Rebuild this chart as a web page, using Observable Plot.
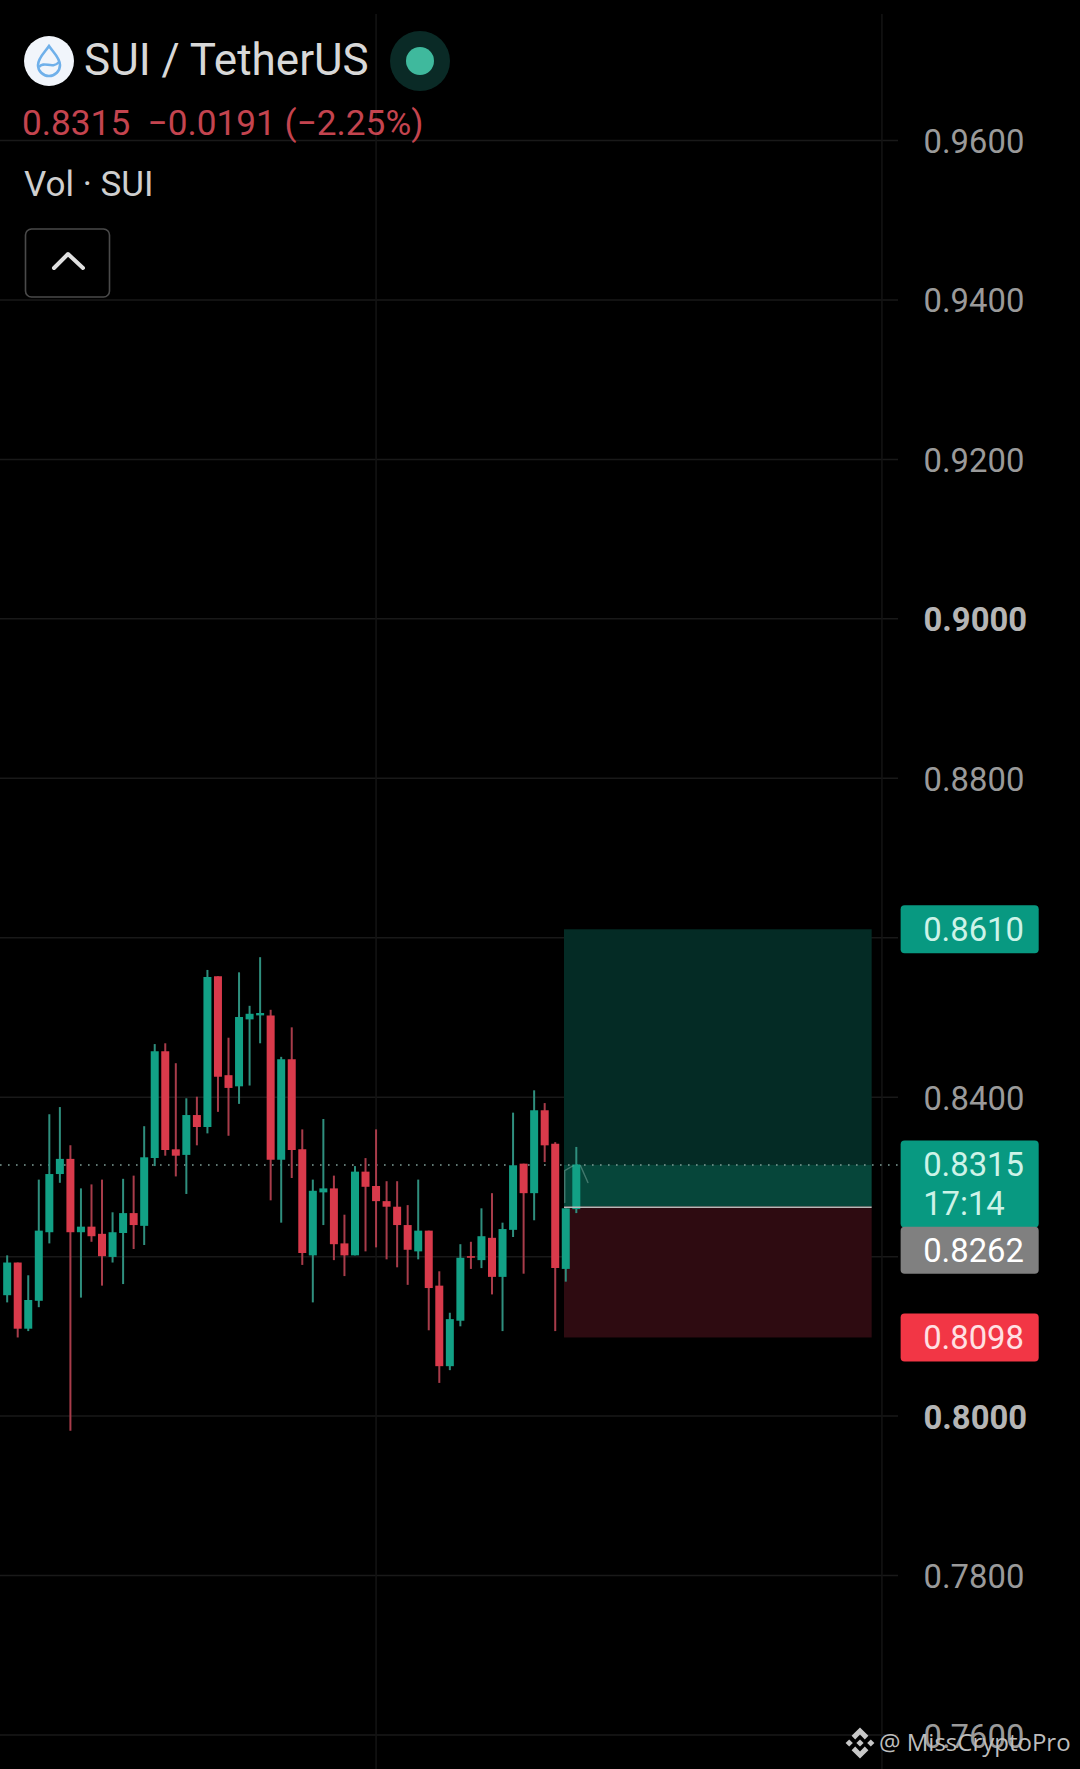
<!DOCTYPE html>
<html>
<head>
<meta charset="utf-8">
<script src="https://cdn.jsdelivr.net/npm/d3@7"></script>
<script src="https://cdn.jsdelivr.net/npm/@observablehq/plot@0.6"></script>
<style>
html,body{margin:0;padding:0;background:#000;width:1080px;height:1769px;overflow:hidden}
#wrap{position:relative;width:1080px;height:1769px;font-family:Roboto,sans-serif}
#chart svg{display:block;background:#000}
.ov{position:absolute;white-space:pre;line-height:1;font-weight:400}
</style>
</head>
<body>
<div id="wrap">
<div id="chart"></div>
<svg class="ov" style="left:0;top:0" width="480" height="310" viewBox="0 0 480 310">
  <circle cx="49" cy="61" r="25" fill="#f1f5fb"/>
  <path d="M49 46 C53 52 60 58 60 65 A11 11 0 0 1 38 65 C38 58 45 52 49 46 Z" fill="none" stroke="#6fb0ea" stroke-width="2.6"/>
  <path d="M39 67 C44 60 52 70 59 62" fill="none" stroke="#6fb0ea" stroke-width="2.4"/>
  <circle cx="420" cy="61" r="30" fill="#0a2a26"/>
  <circle cx="420" cy="61" r="14" fill="#3fb99d"/>
  <rect x="25.5" y="229" width="84" height="68" rx="6" fill="#000" stroke="#4a4a4a" stroke-width="1.6"/>
  <path d="M54 272 L68 258 L83 272" transform="translate(0,-4)" fill="none" stroke="#e0e0e0" stroke-width="4" stroke-linecap="round" stroke-linejoin="round"/>
</svg>
<div class="ov" style="left:84px;top:38px;font-size:44px;color:#d8d8d8">SUI / TetherUS</div>
<div class="ov" style="left:22px;top:106px;font-size:35.2px;color:#c4444f">0.8315  −0.0191 (−2.25%)</div>
<div class="ov" style="left:24px;top:167px;font-size:35px;color:#cfcfcf">Vol · SUI</div>
<svg class="ov" style="left:0;top:0" width="1080" height="1769" viewBox="0 0 1080 1769">
  <g fill="#c8c8c8" transform="translate(860 1743) scale(1.2)">
    <path d="M0 -13 L7 -6 L4 -3 L0 -7 L-4 -3 L-7 -6 Z"/>
    <path d="M0 13 L7 6 L4 3 L0 7 L-4 3 L-7 6 Z"/>
    <path d="M-9 -3 L-12 0 L-9 3 L-6 0 Z"/>
    <path d="M9 -3 L12 0 L9 3 L6 0 Z"/>
    <path d="M0 -3 L3 0 L0 3 L-3 0 Z"/>
  </g>
</svg>
<div class="ov" style="left:879px;top:1730px;font-size:24px;color:#bdbdbd;font-family:'Open Sans',sans-serif;font-weight:400">@ MissCryptoPro</div>
</div>
<script>
const opens = [.8151,.8192,.8109,.8144,.8230,.8303,.8322,.8230,.8237,.8228,.8199,.8229,.8254,.8238,.8323,.8457,.8334,.8327,.8377,.8362,.8551,.8427,.8413,.8497,.8502,.8502,.8321,.8447,.8334,.8201,.8280,.8285,.8216,.8201,.8306,.8288,.8269,.8262,.8239,.8206,.8232,.8163,.8062,.8119,.8200,.8195,.8223,.8174,.8233,.8316,.8279,.8383,.8341,.8184,.8259];
const closes = [.8192,.8109,.8145,.8232,.8303,.8322,.8230,.8237,.8225,.8200,.8230,.8254,.8239,.8324,.8457,.8333,.8326,.8377,.8362,.8550,.8425,.8411,.8500,.8504,.8505,.8321,.8447,.8333,.8204,.8282,.8285,.8215,.8201,.8306,.8287,.8269,.8262,.8239,.8208,.8232,.8160,.8062,.8121,.8198,.8198,.8225,.8174,.8234,.8314,.8279,.8383,.8339,.8185,.8260,.8315];
const highs = [.8201,.8192,.8176,.8296,.8378,.8387,.8339,.8285,.8290,.8296,.8255,.8297,.8301,.8363,.8466,.8467,.8442,.8398,.8400,.8559,.8551,.8474,.8556,.8514,.8575,.8509,.8450,.8487,.8359,.8296,.8372,.8301,.8252,.8313,.8323,.8359,.8294,.8294,.8264,.8296,.8232,.8181,.8129,.8215,.8218,.8260,.8279,.8242,.8380,.8316,.8408,.8392,.8343,.8260,.8337];
const lows = [.8142,.8098,.8106,.8136,.8216,.8292,.7981,.8148,.8218,.8163,.8192,.8165,.8209,.8214,.8313,.8326,.8300,.8278,.8339,.8354,.8381,.8351,.8391,.8414,.8467,.8270,.8242,.8298,.8189,.8142,.8239,.8195,.8175,.8201,.8206,.8211,.8196,.8186,.8164,.8196,.8107,.8041,.8057,.8112,.8184,.8185,.8152,.8106,.8224,.8178,.8245,.8318,.8106,.8168,.8254];
const gridPrices = [.96,.94,.92,.90,.88,.86,.84,.82,.80,.78,.76];
const regularTicks = [.96,.94,.92,.88,.84,.78,.76];
const boldTicks = [.90,.80];
const dayLines = [35,83];
const lastPrice = 0.8315, entry = 0.8262, target = 0.8610, stop = 0.8098;
const boxStart = 52.88, boxEnd = 82.07;
const countdown = "17:14";
const arrowStrokes = [
  [[52.9,.8268],[52.9,.8308],[53.7,.8314]],
  [[54.4,.8314],[55.1,.8293]]
];

const candles = opens.map((o,i)=>({i,o,c:closes[i],h:highs[i],l:lows[i],up:closes[i]>=o}));
const GREEN="#12a085", RED="#d93a4b", GW="#2f8f7e", RW="#a83c4a";
const fmt = d3.format(".4f");
const tagL = 84.82, tagR = 97.92;
const labelDx = 22, labelSize = 32.8;

const plot = Plot.plot({
  width:1080, height:1769,
  marginLeft:0, marginRight:182, marginTop:0, marginBottom:0,
  style:{background:"#000", fontFamily:"Roboto, sans-serif"},
  x:{domain:[-0.633,84.57], axis:null},
  y:{type:"linear", domain:[.96,.76], range:[140,1734.5], axis:null},
  marks:[
    Plot.gridY(gridPrices,{stroke:"#191919", strokeOpacity:1, strokeWidth:1.5}),
    Plot.ruleX(dayLines,{y1:.9758,y2:.7,stroke:"#141414",strokeWidth:1.5}),
    Plot.rect([{}],{x1:()=>boxStart,x2:()=>boxEnd,y1:()=>target,y2:()=>lastPrice,fill:"#042b25"}),
    Plot.rect([{}],{x1:()=>boxStart,x2:()=>boxEnd,y1:()=>lastPrice,y2:()=>entry,fill:"#06463a"}),
    Plot.rect([{}],{x1:()=>boxStart,x2:()=>boxEnd,y1:()=>entry,y2:()=>stop,fill:"#2e0b11"}),
    Plot.ruleY([lastPrice],{stroke:"#7f9f98",strokeWidth:1.6,strokeDasharray:"1.6 6.4"}),
    Plot.ruleX(candles,{x:"i",y1:"l",y2:"h",stroke:d=>d.up?GW:RW,strokeWidth:2}),
    Plot.ruleX(candles,{x:"i",y1:"o",y2:"c",stroke:d=>d.up?GREEN:RED,strokeWidth:8}),
    ...arrowStrokes.map(s=>Plot.line(s,{x:d=>d[0],y:d=>d[1],stroke:"#8fb8ae",strokeWidth:1.4,strokeOpacity:.45})),
    Plot.ruleY([entry],{x1:()=>boxStart,x2:()=>boxEnd,stroke:"#b8b8b8",strokeWidth:1.6}),
    Plot.axisY(regularTicks,{anchor:"right",tickSize:0,tickPadding:25,tickFormat:fmt,fill:"#9a9a9a",fontSize:labelSize,fontWeight:400,dy:2,label:null}),
    Plot.axisY(boldTicks,{anchor:"right",tickSize:0,tickPadding:25,tickFormat:fmt,fill:"#b5b5b5",fontSize:labelSize,fontWeight:700,dy:2,label:null}),
    // price tags
    Plot.rect([target],{x1:()=>tagL,x2:()=>tagR,y1:d=>d,y2:d=>d,insetTop:-24,insetBottom:-24,fill:"#089981",rx:4}),
    Plot.rect([lastPrice],{x1:()=>tagL,x2:()=>tagR,y1:d=>d,y2:d=>d,insetTop:-24,insetBottom:-63,fill:"#089981",rx:4}),
    Plot.rect([entry],{x1:()=>tagL,x2:()=>tagR,y1:d=>d,y2:d=>d,insetTop:20,insetBottom:-67,fill:"#808080",rx:4}),
    Plot.rect([stop],{x1:()=>tagL,x2:()=>tagR,y1:d=>d,y2:d=>d,insetTop:-24,insetBottom:-24,fill:"#f23645",rx:4}),
    Plot.text([target],{x:()=>tagL,y:d=>d,dx:labelDx,dy:1,text:fmt,textAnchor:"start",fill:"#cdf3e8",fontSize:labelSize,fontWeight:400}),
    Plot.text([lastPrice],{x:()=>tagL,y:d=>d,dx:labelDx,dy:1,text:fmt,textAnchor:"start",fill:"#cdf3e8",fontSize:labelSize,fontWeight:400}),
    Plot.text([lastPrice],{x:()=>tagL,y:d=>d,dx:labelDx,dy:40,text:()=>countdown,textAnchor:"start",fill:"#cdf3e8",fontSize:labelSize,fontWeight:400}),
    Plot.text([entry],{x:()=>tagL,y:d=>d,dx:labelDx,dy:44,text:fmt,textAnchor:"start",fill:"#fff",fontSize:labelSize,fontWeight:400}),
    Plot.text([stop],{x:()=>tagL,y:d=>d,dx:labelDx,dy:1,text:fmt,textAnchor:"start",fill:"#ffe0e3",fontSize:labelSize,fontWeight:400})
  ]
});
document.getElementById("chart").appendChild(plot);
</script>
</body>
</html>
